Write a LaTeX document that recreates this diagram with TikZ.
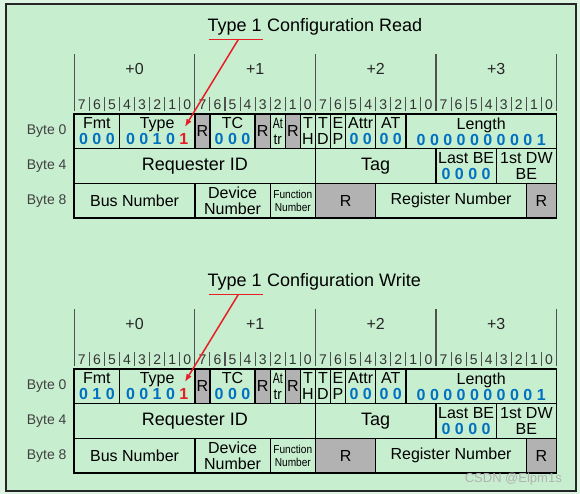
\documentclass[tikz,border=0pt]{standalone}
\usepackage{fontspec}
\setmainfont{Liberation Sans}
\usepackage{graphicx}
\usetikzlibrary{calc}
\usetikzlibrary{positioning}
\usetikzlibrary{arrows.meta}
\definecolor{cfggreen}{RGB}{200,238,208}
\definecolor{edgegreen}{RGB}{222,244,226}
\definecolor{rsvdgray}{RGB}{178,178,178}
\definecolor{valblue}{RGB}{0,112,192}
\definecolor{pointred}{RGB}{232,30,36}
\definecolor{tickgray}{RGB}{80,80,80}
\newcommand*{\bitw}{15.07pt}
\newcommand*{\pxfont}[2]{\fontsize{#1}{#2}\selectfont}
\newcommand*{\val}[1]{\textbf{\textcolor{valblue}{#1}}}
\newcommand*{\lastbit}[1]{\textbf{\textcolor{pointred}{#1}}}
\newcommand*{\squeeze}[2]{\scalebox{#1}[1]{#2}}
\tikzset{%
  field/.style={draw, line width=1.4pt, fill=cfggreen, outer sep=0pt, inner sep=0pt,
    minimum height=34.7pt, align=center, font=\pxfont{16}{16}},% one header field
  bits/.style={field, minimum width=#1*\bitw},% field that is #1 bits wide
  rsvd/.style={bits=#1, fill=rsvdgray},% reserved field
  bigtext/.style={font=\pxfont{18}{20}},% single names in a wide field
  outline/.style={draw, line width=1.8pt},% border round the whole header
  title/.style={inner sep=0pt, font=\pxfont{18}{20}},% request name
  bytehdr/.style={inner sep=0pt, font=\pxfont{16}{16}, text=black!85},% +0 .. +3
  bitnum/.style={inner sep=0pt, font=\pxfont{14}{14}, text=black!80},% bit numbers
  bytelbl/.style={inner sep=0pt, font=\pxfont{14}{14}, text=black!75},% Byte 0/4/8
  tick/.style={draw=tickgray, line width=1.1pt},% header ticks
  redrule/.style={draw=pointred, line width=1.5pt},% underline and pointer
  pointer/.style={-{Latex[length=8pt, width=6pt]}}% arrow to the type code
}
% One Type 1 configuration request: #1 prefix, #2 Read/Write, #3 Fmt value
\newcommand*{\cfgblock}[3]{
  % Title, the type code gets underlined:
  \node[title, anchor=base west] (#1ty) at (207.5,31.7) {Type 1};
  \node[title, anchor=base west] (#1tt) at ($(#1ty.base east)+(5,0)$) {Configuration #2};
  % Byte offsets and bit numbers:
  \foreach \k in {0,...,3}
    \node[bytehdr] (#1plus\k) at ({74.3+(\k+.5)*8*15.07},69) {+\k};
  \foreach \i in {0,...,32}
    \draw[tick] ({74.3+\i*15.07},97) -- ++(0,14);
  \foreach \i in {0,8,...,32}
    \draw[tick] ({74.3+\i*15.07},54) -- ++(0,57);
  \foreach \i in {0,...,31}{
    \pgfmathtruncatemacro{\bitidx}{7-mod(\i,8)}
    \node[bitnum] (#1bit\i) at ({74.3+(\i+.5)*15.07},104.5) {\bitidx};
  }
  % Byte 0:
  \node[bits=3, anchor=north west] (#1fmt) at (74.3,114) {Fmt\\\val{#3}};
  \node[bits=5, right=0pt of #1fmt] (#1type) {Type\\\val{0 0 1 0} \lastbit{1}};
  \node[rsvd=1, right=0pt of #1type] (#1ra) {R};
  \node[bits=3, right=0pt of #1ra] (#1tc) {TC\\\val{0 0 0}};
  \node[rsvd=1, right=0pt of #1tc] (#1rb) {R};
  \node[bits=1, right=0pt of #1rb, font=\pxfont{15}{16}] (#1atr) {\squeeze{.7}{At}\\\squeeze{.9}{tr}};
  \node[rsvd=1, right=0pt of #1atr] (#1rc) {R};
  \node[bits=1, right=0pt of #1rc] (#1th) {T\\H};
  \node[bits=1, right=0pt of #1th] (#1td) {T\\D};
  \node[bits=1, right=0pt of #1td] (#1ep) {E\\P};
  \node[bits=2, right=0pt of #1ep] (#1attr) {Attr\\\val{0 0}};
  \node[bits=2, right=0pt of #1attr] (#1at) {AT\\\val{0 0}};
  \node[bits=10, right=0pt of #1at] (#1len) {Length\\\val{0 0 0 0 0 0 0 0 0 1}};
  % Byte 4:
  \node[bits=16, bigtext, anchor=north west] (#1req) at (#1fmt.south west) {Requester ID};
  \node[bits=8, bigtext, right=0pt of #1req] (#1tag) {Tag};
  \node[bits=4, right=0pt of #1tag] (#1lbe) {Last BE\\\val{0 0 0 0}};
  \node[bits=4, right=0pt of #1lbe] (#1fbe) {1st DW\\BE};
  % Byte 8:
  \node[bits=8, anchor=north west] (#1bus) at (#1req.south west) {Bus Number};
  \node[bits=5, right=0pt of #1bus, font=\pxfont{16}{15.5}] (#1dev) {Device\\Number};
  \node[bits=3, right=0pt of #1dev, font=\pxfont{11.5}{13.5}] (#1fn) {\squeeze{.88}{Function}\\\squeeze{.88}{Number}};
  \node[rsvd=4, right=0pt of #1fn] (#1rd) {R};
  \node[bits=10, right=0pt of #1rd] (#1reg) {Register Number};
  \node[rsvd=2, right=0pt of #1reg] (#1re) {R};
  \draw[outline] (#1fmt.north west) rectangle (#1re.south east);
  % Row names:
  \node[bytelbl, left=7.6pt of #1fmt] (#1lbl0) {Byte 0};
  \node[bytelbl, left=7.6pt of #1req] (#1lbl4) {Byte 4};
  \node[bytelbl, left=7.6pt of #1bus] (#1lbl8) {Byte 8};
  % Underline and pointer down to the last type bit:
  \coordinate (#1ula) at ($(#1ty.base west)+(1,7.6)$);
  \coordinate (#1ulb) at ($(#1ty.base east)+(1,7.6)$);
  \coordinate (#1ulmid) at ($(#1ula)!.55!(#1ulb)$);
  \coordinate (#1tip) at ($(#1type.north east)+(-10,13)$);
  \draw[redrule] (#1ula) -- (#1ulb);
  \draw[redrule, pointer] (#1ulmid) -- (#1tip);
}

\begin{document}
\begin{tikzpicture}[x=1pt, y=-1pt]
  \useasboundingbox (0,0) rectangle (580,494);
  \fill[edgegreen] (0,0) rectangle (580,494);
  \draw[fill=cfggreen, draw=black!85, line width=1.5pt] (6,4) rectangle (576,491);
  % Read request on top, write request below:
  \cfgblock{rd}{Read}{0 0 0}
  \begin{scope}[shift={(0,255)}]
    \cfgblock{wr}{Write}{0 1 0}
  \end{scope}
  \node[anchor=base east, inner sep=0pt, font=\pxfont{13}{13}, text=black!30] (mark) at (562,482) {CSDN @Elpm1s};
\end{tikzpicture}
\end{document}
